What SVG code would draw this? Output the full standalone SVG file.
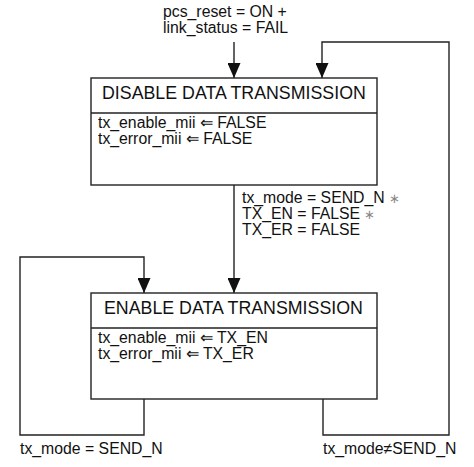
<svg xmlns="http://www.w3.org/2000/svg" width="474" height="467" viewBox="0 0 474 467">
<style>
text{font-family:"Liberation Sans",Arial,sans-serif;fill:#111}
.t{font-size:15.8px}
.h{font-size:17.8px}
.box{fill:#fff;stroke:#222;stroke-width:1.4}
.c{fill:none;stroke:#222;stroke-width:1.4}
.ast{fill:#888;font-size:13px}
</style>
<defs>
<marker id="ah" viewBox="0 0 15 13" refX="15" refY="6.5" markerWidth="15" markerHeight="13" markerUnits="userSpaceOnUse" orient="auto">
<path d="M0,0 L15,6.5 L0,13 z" fill="#111"/>
</marker>
</defs>
<rect width="474" height="467" fill="#fff"/>
<g id="connectors">
<path class="c" d="M234,42 V78" marker-end="url(#ah)"/>
<path class="c" d="M323,399 V435 H449 V42 H322 V78" marker-end="url(#ah)"/>
<path class="c" d="M234,185 V293" marker-end="url(#ah)"/>
<path class="c" d="M144,399 V435 H20 V257 H144 V293" marker-end="url(#ah)"/>
</g>
<g id="labels">
<text class="t" x="163" y="17">pcs_reset = ON +</text>
<text class="t" x="163" y="33">link_status = FAIL</text>
<text class="t" x="242" y="203">tx_mode = SEND_N <tspan class="ast">∗</tspan></text>
<text class="t" x="242" y="219">TX_EN = FALSE <tspan class="ast">∗</tspan></text>
<text class="t" x="242" y="235">TX_ER = FALSE</text>
<text class="t" x="20" y="454">tx_mode = SEND_N</text>
<text class="t" x="323" y="454">tx_mode≠SEND_N</text>
</g>
<g id="disable">
<rect class="box" x="91" y="78" width="286" height="107"/>
<line class="c" x1="91" y1="113" x2="377" y2="113"/>
<text class="h" x="102" y="99">DISABLE DATA TRANSMISSION</text>
<text class="t" x="98" y="128">tx_enable_mii ⇐ FALSE</text>
<text class="t" x="98" y="144">tx_error_mii ⇐ FALSE</text>
</g>
<g id="enable">
<rect class="box" x="91" y="293" width="286" height="106"/>
<line class="c" x1="91" y1="328" x2="377" y2="328"/>
<text class="h" x="104" y="314">ENABLE DATA TRANSMISSION</text>
<text class="t" x="98" y="343">tx_enable_mii ⇐ TX_EN</text>
<text class="t" x="98" y="359">tx_error_mii ⇐ TX_ER</text>
</g>
</svg>
